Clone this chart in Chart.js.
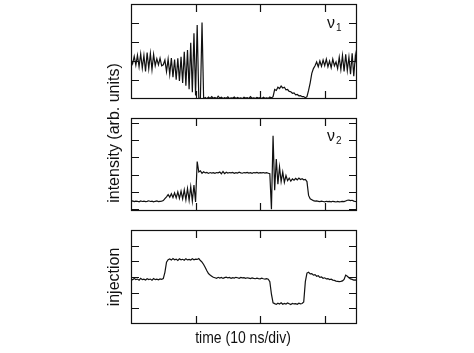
<!DOCTYPE html>
<html>
<head>
<meta charset="utf-8">
<script src="https://cdn.jsdelivr.net/npm/chart.js@4/dist/chart.umd.min.js"></script>
<style>
  body { margin: 0; background: #fff; }
  #wrap { position: relative; width: 474px; height: 353px; overflow: hidden; font-family: "Liberation Sans", Arial, sans-serif; color: #111; }
  canvas { position: absolute; left: 0; top: 0; }
  .lbl { position: absolute; white-space: nowrap; line-height: 1; }
  .nu { font-size: 16px; }
  .nu span { font-size: 10px; position: relative; top: 3px; margin-left: 1px; }
  .rot { font-size: 16px; transform: translate(-50%, -50%) rotate(-90deg) scaleY(1.05); }
</style>
</head>
<body>
<div id="wrap">
  <canvas id="panel1" width="474" height="353"></canvas>
  <canvas id="panel2" width="474" height="353"></canvas>
  <canvas id="panel3" width="474" height="353"></canvas>
  <div class="lbl nu" style="left:327px;top:15px">ν<span>1</span></div>
  <div class="lbl nu" style="left:327px;top:128px">ν<span>2</span></div>
  <div class="lbl rot" style="left:114px;top:133px">intensity (arb. units)</div>
  <div class="lbl rot" style="left:114px;top:277px">injection</div>
  <div class="lbl" style="left:243px;top:330px;font-size:14px;transform:translateX(-50%) scaleY(1.12)">time (10 ns/div)</div>
</div>
<script>
// time axis, in divisions of 10 ns; traces sampled every 0.025 div
const sampleStep = 0.025;
const timeTicks = [1, 2, 3];

// nu1 intensity (arb. units)
const nu1Values = [
  2.10, 1.85, 2.25, 1.78, 2.30, 1.70, 2.38, 1.62, 2.30, 1.45,
  2.45, 1.60, 2.40, 1.55, 2.35, 1.75, 2.12, 1.80, 2.15, 1.75,
  1.80, 2.05, 1.45, 2.10, 1.30, 2.15, 1.15, 2.08, 1.02, 2.14,
  0.95, 2.22, 0.85, 2.49, 0.70, 2.58, 0.52, 2.96, 0.35, 3.46,
  0.18, 3.90, 0.03, 0.05, 4.02, 0.00, 0.08, 0.02, 0.10, 0.03,
  0.12, 0.04, 0.08, 0.02, 0.15, 0.05, 0.09, 0.03, 0.07, 0.04,
  0.11, 0.02, 0.06, 0.05, 0.10, 0.03, 0.08, 0.04, 0.06, 0.02,
  0.09, 0.05, 0.07, 0.03, 0.12, 0.04, 0.06, 0.03, 0.08, 0.05,
  0.07, 0.02, 0.09, 0.04, 0.06, 0.03, 0.10, 0.05, 0.12, 0.50,
  0.45, 0.62, 0.55, 0.68, 0.58, 0.62, 0.48, 0.50, 0.40, 0.38,
  0.30, 0.32, 0.22, 0.24, 0.17, 0.18, 0.12, 0.13, 0.06, 0.12,
  0.45, 0.85, 1.35, 1.60, 1.75, 1.95, 1.70, 2.00, 1.72, 2.05,
  1.75, 2.10, 1.70, 2.00, 1.65, 2.10, 1.75, 1.95, 1.60, 2.20,
  1.55, 2.30, 1.45, 2.35, 1.50, 2.20, 1.30, 2.40, 1.20, 2.30,
  1.70
];
const nu1Ticks = [1, 2, 3, 4];

// nu2 intensity (arb. units)
const nu2Values = [
  0.45, 0.48, 0.44, 0.47, 0.46, 0.43, 0.48, 0.45, 0.47, 0.44,
  0.46, 0.49, 0.45, 0.47, 0.43, 0.46, 0.48, 0.44, 0.46, 0.47,
  0.50, 0.62, 0.72, 0.85, 0.70, 0.90, 0.68, 0.95, 0.66, 1.00,
  0.63, 1.05, 0.60, 1.12, 0.55, 1.20, 0.52, 1.30, 0.47, 1.40,
  0.42, 2.75, 2.15, 2.22, 2.08, 2.16, 2.10, 2.13, 2.07, 2.12,
  2.09, 2.11, 2.08, 2.12, 2.10, 2.15, 2.05, 2.18, 2.06, 2.14,
  2.09, 2.12, 2.10, 2.13, 2.08, 2.11, 2.09, 2.14, 2.10, 2.08,
  2.12, 2.10, 2.13, 2.09, 2.11, 2.08, 2.12, 2.10, 2.13, 2.09,
  2.11, 2.10, 2.12, 2.09, 2.11, 2.08, 2.05, 0.00, 4.25, 1.10,
  2.90, 1.45, 2.45, 1.60, 2.15, 1.55, 1.95, 1.65, 1.80, 1.62,
  1.75, 1.68, 1.78, 1.70, 1.80, 1.72, 1.76, 1.70, 1.72, 1.60,
  0.80, 0.60, 0.55, 0.50, 0.47, 0.48, 0.46, 0.44, 0.47, 0.45,
  0.43, 0.46, 0.44, 0.45, 0.43, 0.46, 0.44, 0.42, 0.45, 0.43,
  0.44, 0.46, 0.44, 0.48, 0.52, 0.53, 0.50, 0.52, 0.47, 0.45,
  0.43
];
const nu2Ticks = [0, 1, 2, 3, 4, 5];

// injection
const injectionValues = [
  2.88, 2.82, 2.90, 2.84, 2.87, 2.80, 2.92, 2.83, 2.86, 2.81,
  2.89, 2.84, 2.87, 2.80, 2.90, 2.83, 2.86, 2.82, 2.88, 2.85,
  2.90, 3.30, 3.95, 4.10, 4.15, 4.08, 4.18, 4.10, 4.14, 4.06,
  4.16, 4.10, 4.13, 4.07, 4.17, 4.09, 4.12, 4.08, 4.16, 4.10,
  4.14, 4.12, 4.18, 4.05, 3.95, 3.80, 3.60, 3.40, 3.22, 3.12,
  3.05, 2.98, 2.95, 2.92, 2.98, 2.93, 2.97, 2.91, 2.96, 2.99,
  2.94, 2.97, 2.92, 2.96, 2.93, 2.98, 2.95, 2.92, 2.97, 2.94,
  2.96, 2.91, 2.95, 2.93, 2.90, 2.94, 2.91, 2.89, 2.93, 2.90,
  2.88, 2.92, 2.89, 2.87, 2.90, 2.86, 2.70, 1.90, 1.35, 1.30,
  1.25, 1.33, 1.28, 1.35, 1.26, 1.31, 1.27, 1.34, 1.29, 1.24,
  1.32, 1.28, 1.30, 1.26, 1.33, 1.29, 1.31, 1.40, 2.70, 3.25,
  3.30, 3.20, 3.22, 3.12, 3.15, 3.05, 3.08, 2.98, 3.00, 2.92,
  2.95, 2.88, 2.90, 2.84, 2.86, 2.80, 2.78, 2.74, 2.72, 2.70,
  2.72, 2.75, 2.85, 3.12, 3.05, 2.95, 2.88, 2.85, 2.80, 2.82,
  2.76
];
const injectionTicks = [1, 2, 3, 4, 5];

// box round the plot with short ticks pointing inwards on all four sides
const frameTicks = {
  id: 'frameTicks',
  afterDatasetsDraw(chart, args, opts) {
    const ctx = chart.ctx;
    const a = chart.chartArea;
    const len = 8;
    ctx.save();
    ctx.strokeStyle = '#111';
    ctx.lineWidth = 1.2;
    ctx.strokeRect(a.left + 0.5, a.top + 0.5, a.right - a.left - 1, a.bottom - a.top - 1);
    ctx.beginPath();
    timeTicks.forEach(v => {
      const px = Math.round(chart.scales.x.getPixelForValue(v)) + 0.5;
      ctx.moveTo(px, a.top); ctx.lineTo(px, a.top + len);
      ctx.moveTo(px, a.bottom); ctx.lineTo(px, a.bottom - len);
    });
    opts.yTicks.forEach(v => {
      const py = Math.round(chart.scales.y.getPixelForValue(v)) + 0.5;
      ctx.moveTo(a.left, py); ctx.lineTo(a.left + len, py);
      ctx.moveTo(a.right, py); ctx.lineTo(a.right - len, py);
    });
    ctx.stroke();
    ctx.restore();
  }
};

function makePanel(id, values, yMin, yMax, yTicks, top, bottom) {
  const points = values.map((v, i) => ({ x: i * sampleStep, y: v }));
  return new Chart(document.getElementById(id), {
    type: 'line',
    data: {
      datasets: [{
        data: points,
        borderColor: '#111',
        borderWidth: 1.2,
        pointRadius: 0,
        tension: 0,
        fill: false
      }]
    },
    options: {
      responsive: false,
      animation: false,
      events: [],
      layout: { padding: { left: 131, right: 474 - 357, top: top, bottom: 353 - bottom } },
      plugins: {
        legend: { display: false },
        tooltip: { enabled: false },
        frameTicks: { yTicks: yTicks }
      },
      scales: {
        x: { type: 'linear', min: 0, max: 3.5, display: false },
        y: { min: yMin, max: yMax, display: false }
      }
    },
    plugins: [frameTicks]
  });
}

makePanel('panel1', nu1Values, 0, 5, nu1Ticks, 4, 99);
makePanel('panel2', nu2Values, -0.1, 5.27, nu2Ticks, 118, 211);
makePanel('panel3', injectionValues, 0, 6, injectionTicks, 230, 324);
</script>
</body>
</html>
